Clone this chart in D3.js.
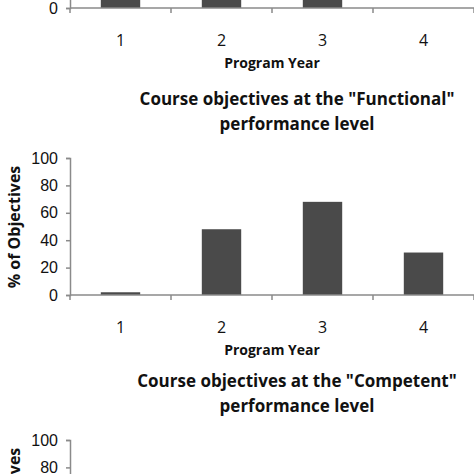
<!DOCTYPE html>
<html><head><meta charset="utf-8">
<script src="https://cdn.jsdelivr.net/npm/d3@7"></script>
<style>body{margin:0;background:#fff}</style>
</head><body><div id="chart"></div>
<script>
var years = ["1", "2", "3", "4"];
var yTicks = [0, 20, 40, 60, 80, 100];
var topValues = [40, 40, 40, 0];          // upper chart, only its bottom is visible
var functionalValues = [2, 48, 68, 31];
var competentValues = [0, 0, 0, 0];       // lower chart, cut off below
var titles = [
    ["", ""],
    ['Course objectives at the "Functional"', "performance level"],
    ['Course objectives at the "Competent"', "performance level"]
];

var svg = d3.select("#chart").append("svg").attr("width", 474).attr("height", 474)
    .style("font-family", "'Open Sans', 'Liberation Sans', sans-serif");

var x = d3.scaleBand().domain(years).range([70, 474]).paddingInner(0.61).paddingOuter(0.305);

function drawChart(zeroY, title, values) {
    var y = d3.scaleLinear().domain([0, 100]).range([zeroY, zeroY - 137]);
    var g = svg.append("g");

    g.selectAll("rect").data(values).enter().append("rect")
        .attr("x", function(d, i) { return x(years[i]); })
        .attr("width", x.bandwidth())
        .attr("y", function(d) { return y(d); })
        .attr("height", function(d) { return zeroY - y(d); })
        .attr("fill", "#4a4a4a");

    // y axis, only ticks that land on the page
    var ya = g.append("g").attr("transform", "translate(70,0)")
        .call(d3.axisLeft(y).tickValues(yTicks.filter(function(t) { return y(t) >= 0 && y(t) <= 474; }))
            .tickSize(4).tickPadding(8));
    ya.select(".domain").attr("stroke", "#8a8a8a").attr("stroke-width", 1.5);
    ya.selectAll(".tick line").attr("stroke", "#8a8a8a").attr("stroke-width", 1.5);
    ya.selectAll("text").attr("font-size", 16).attr("fill", "#111").attr("font-family", "inherit");

    // x axis
    var xa = g.append("g").attr("transform", "translate(0," + zeroY + ")");
    xa.append("line").attr("x1", 70).attr("x2", 474).attr("stroke", "#8a8a8a").attr("stroke-width", 1.5);
    xa.selectAll("line.t").data(d3.range(5)).enter().append("line")
        .attr("x1", function(d) { return 70 + d * x.step(); })
        .attr("x2", function(d) { return 70 + d * x.step(); })
        .attr("y1", 0).attr("y2", 5).attr("stroke", "#8a8a8a").attr("stroke-width", 1.5);
    xa.selectAll("text").data(years).enter().append("text")
        .attr("x", function(d) { return x(d) + x.bandwidth() / 2; })
        .attr("y", 38).attr("text-anchor", "middle").attr("font-size", 16).attr("fill", "#111")
        .text(function(d) { return d; });

    g.append("text").attr("x", 272).attr("y", zeroY + 60).attr("text-anchor", "middle")
        .attr("font-size", 14).attr("font-weight", "bold").attr("fill", "#111").text("Program Year");

    if (zeroY > 100) {
        g.append("text").attr("transform", "translate(20," + (zeroY - 68) + ") rotate(-90)")
            .attr("text-anchor", "middle").attr("font-size", 16).attr("font-weight", "bold")
            .attr("fill", "#111").text("% of Objectives");
    }

    g.selectAll("text.title").data(title).enter().append("text")
        .attr("x", 297).attr("y", function(d, i) { return zeroY - 190 + i * 25; })
        .attr("text-anchor", "middle").attr("font-size", 17).attr("font-weight", "bold")
        .attr("fill", "#111").text(function(d) { return d; });
}

drawChart(8, titles[0], topValues);
drawChart(295, titles[1], functionalValues);
drawChart(577, titles[2], competentValues);
</script>
</body></html>
